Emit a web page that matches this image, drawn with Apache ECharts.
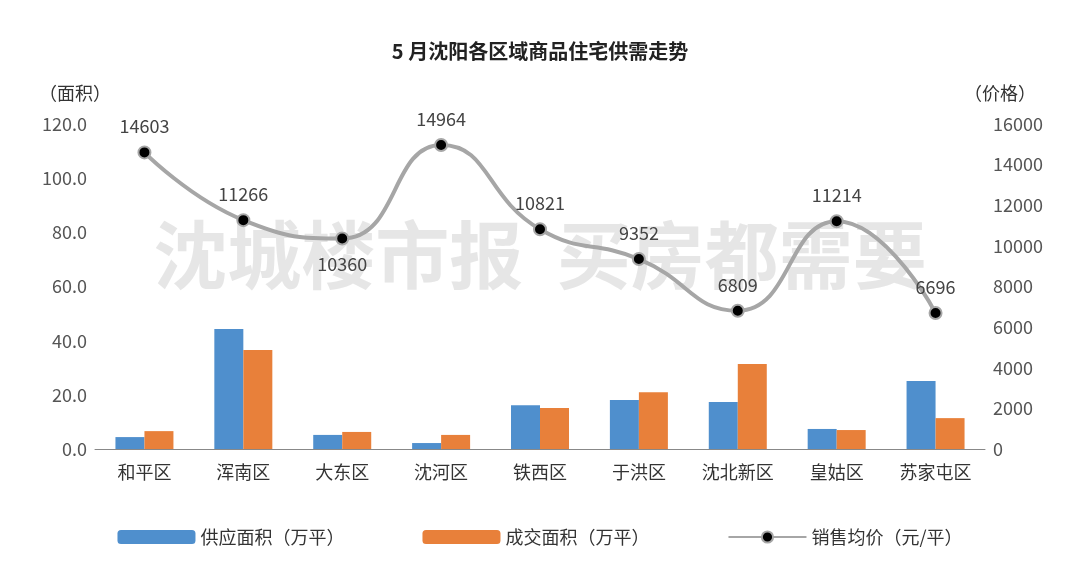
<!DOCTYPE html>
<html><head><meta charset="utf-8">
<script src="https://cdn.jsdelivr.net/npm/echarts@6/dist/echarts.min.js"></script>
<style>html,body{margin:0;padding:0;background:#fff}#c{width:1080px;height:567px}</style>
</head><body><div id="c"></div>
<script>
const categories=['和平区','浑南区','大东区','沈河区','铁西区','于洪区','沈北新区','皇姑区','苏家屯区'];
const supplyArea=[4.4,44.3,5.2,2.2,16.2,18.1,17.4,7.4,25.1];
const dealArea=[6.6,36.6,6.3,5.2,15.1,21.0,31.4,7.0,11.4];
const avgPrice=[14603,11266,10360,14964,10821,9352,6809,11214,6696];
const labelPos=['top','top','bottom','top','top','top','top','top','top'];
const font='"Noto Sans CJK SC","Noto Sans",sans-serif';
const chart=echarts.init(document.getElementById('c'));
chart.setOption({
  textStyle:{fontFamily:font},
  title:{text:'5 月沈阳各区域商品住宅供需走势',left:'center',top:36,textStyle:{fontSize:20,fontWeight:'bold',color:'#222',fontFamily:font}},
  graphic:[{type:'text',left:'center',top:218,z:0,style:{text:'沈城楼市报  买房都需要',font:'bold 74px "Noto Sans CJK SC"',fill:'rgba(200,200,200,0.45)'}}],
  legend:{bottom:16,itemGap:78,itemWidth:78,itemHeight:14,textStyle:{fontSize:18,color:'#333'},
    data:['供应面积（万平）','成交面积（万平）','销售均价（元/平）']},
  grid:{left:95,right:95,top:124,bottom:118},
  xAxis:{type:'category',data:categories,axisTick:{show:false},axisLine:{lineStyle:{color:'#888'}},
    axisLabel:{fontSize:18,color:'#333',margin:14}},
  yAxis:[{type:'value',min:0,max:120,interval:20,name:'（面积）',nameGap:22,nameTextStyle:{fontSize:18,color:'#333',padding:[0,40,0,0]},
      axisLabel:{fontSize:18,color:'#555',formatter:v=>v.toFixed(1)},splitLine:{show:false},axisLine:{show:false}},
    {type:'value',min:0,max:16000,interval:2000,name:'（价格）',nameGap:22,nameTextStyle:{fontSize:18,color:'#333',padding:[0,0,0,30]},
      axisLabel:{fontSize:18,color:'#555',formatter:v=>String(v)},splitLine:{show:false},axisLine:{show:false}}],
  series:[
    {name:'供应面积（万平）',type:'bar',data:supplyArea,barWidth:29,barGap:'0%',itemStyle:{color:'#4f8fcd'}},
    {name:'成交面积（万平）',type:'bar',data:dealArea,barWidth:29,itemStyle:{color:'#e8803a'}},
    {name:'销售均价（元/平）',type:'line',yAxisIndex:1,smooth:0.5,data:avgPrice.map((v,i)=>({value:v,label:{position:labelPos[i]}})),
      symbol:'circle',symbolSize:12,lineStyle:{color:'#a6a6a6',width:4},
      itemStyle:{color:'#000',borderColor:'#a6a6a6',borderWidth:2},
      label:{show:true,fontSize:18,color:'#444',distance:10}}
  ]
});
</script></body></html>
